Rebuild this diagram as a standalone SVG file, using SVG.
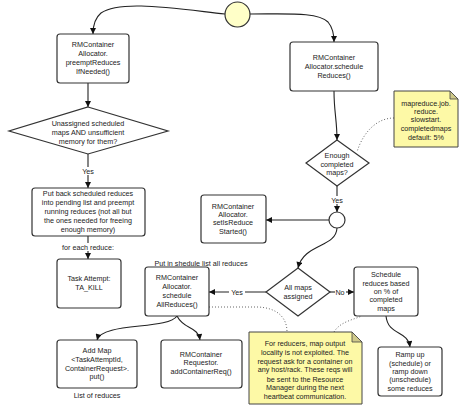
<svg xmlns="http://www.w3.org/2000/svg" width="474" height="410" viewBox="0 0 474 410">
<defs>
<marker id="ah" viewBox="0 0 10 10" refX="10" refY="5" markerWidth="7" markerHeight="6" markerUnits="userSpaceOnUse" orient="auto">
<path d="M0,0 L10,5 L0,10 Z" fill="#111"/>
</marker>
<style>
.box{fill:#fff;stroke:#333;stroke-width:1.2}
.dia{fill:#fff;stroke:#333;stroke-width:1.2}
.note{fill:#fdf9a6;stroke:#444;stroke-width:1}
.fold{fill:#cfc98a;stroke:#444;stroke-width:0.8}
.c{fill:none;stroke:#222;stroke-width:1.1}
.arr{marker-end:url(#ah)}
.dot{fill:none;stroke:#666;stroke-width:1;stroke-dasharray:1 2}
text{font-family:"Liberation Sans",Arial,sans-serif;font-size:7.2px;fill:#222;text-anchor:middle}
.lbg{fill:#fff}
</style>
</defs>
<rect width="474" height="410" fill="#fff"/>

<g id="connectors">
<path class="c arr" d="M225,14 C170,8 120,0 101,13 C95,18 93,25 93,34"/>
<path class="c arr" d="M250,14 C290,14 318,12 328,22 C333,28 334,35 334,42"/>
<path class="c arr" d="M88,83 L88,107"/>
<path class="c arr" d="M88,154 L88,188"/>
<path class="c arr" d="M88,236 L88,259"/>
<path class="c arr" d="M334,91 C334,112 337,120 337,140"/>
<path class="c arr" d="M337,186 L337,212"/>
<path class="c arr" d="M329,220 L266,220"/>
<path class="c arr" d="M337,228 C336,248 304,243 298,268"/>
<path class="c arr" d="M266,292 L209,292"/>
<path class="c arr" d="M329,292 L354,292"/>
<path class="c arr" d="M386,316 C388,336 408,330 410,347"/>
<path class="c arr" d="M177,316 C168,330 102,322 97,340"/>
<path class="c arr" d="M177,316 C184,330 198,326 200,340"/>
<path class="dot" d="M394,118 C375,118 362,135 357,152"/>
<path class="dot" d="M209,307 L258,307 C278,308 287,318 287,332"/>
<path class="dot" d="M334,332 C340,322 352,320 362,316"/>
<rect class="lbg" x="80" y="167" width="16" height="8"/>
<text x="88" y="174">Yes</text>
<rect class="lbg" x="56" y="243" width="64" height="8"/>
<text x="88" y="250">for each reduce:</text>
<rect class="lbg" x="329" y="196" width="16" height="8"/>
<text x="337" y="203">Yes</text>
<rect class="lbg" x="229" y="288" width="16" height="8"/>
<text x="237" y="295">Yes</text>
<rect class="lbg" x="335" y="288" width="11" height="8"/>
<text x="340" y="295">No</text>
<text x="201" y="266">Put in shedule list all reduces</text>
<text x="97" y="398">List of reduces</text>
</g>

<g id="start">
<circle cx="237.5" cy="14.5" r="12.5" fill="#ffffc8" stroke="#333" stroke-width="1.2"/>
</g>

<g id="preempt">
<rect class="box" x="57" y="34" width="72" height="49" rx="3"/>
<text x="93" y="47">RMContainer</text>
<text x="93" y="56">Allocator.</text>
<text x="93" y="65">preemptReduces</text>
<text x="93" y="74">IfNeeded()</text>
</g>

<g id="schedule">
<rect class="box" x="290" y="42" width="88" height="49" rx="3"/>
<text x="334" y="60">RMContainer</text>
<text x="334" y="69">Allocator.schedule</text>
<text x="334" y="78">Reduces()</text>
</g>

<g id="unassigned">
<polygon class="dia" points="88,107 168,131 88,154 9,131"/>
<text x="88" y="126">Unassigned scheduled</text>
<text x="88" y="135">maps AND unsufficient</text>
<text x="88" y="144">memory for them?</text>
</g>

<g id="putback">
<rect class="box" x="32" y="188" width="113" height="48" rx="3"/>
<text x="88" y="196">Put back scheduled reduces</text>
<text x="88" y="205">into pending list and preempt</text>
<text x="88" y="214">running reduces (not all but</text>
<text x="88" y="223">the ones needed for freeing</text>
<text x="88" y="232">enough memory)</text>
</g>

<g id="kill">
<rect class="box" x="57" y="259" width="64" height="49" rx="3"/>
<text x="89" y="281">Task Attempt:</text>
<text x="89" y="290">TA_KILL</text>
</g>

<g id="slownote">
<path class="note" d="M394,91 H450 L458,99 V147 H394 Z"/>
<path class="fold" d="M450,91 L450,99 L458,99 Z"/>
<text x="426" y="106">mapreduce.job.</text>
<text x="426" y="114">reduce.</text>
<text x="426" y="122">slowstart.</text>
<text x="426" y="131">completedmaps</text>
<text x="426" y="140">default: 5%</text>
</g>

<g id="enough">
<polygon class="dia" points="337,140 369,163 337,186 306,163"/>
<text x="337" y="158">Enough</text>
<text x="337" y="167">completed</text>
<text x="337" y="175">maps?</text>
</g>

<g id="junction">
<circle cx="337" cy="220" r="8" fill="#fff" stroke="#333" stroke-width="1.2"/>
</g>

<g id="setstarted">
<rect class="box" x="201" y="195" width="65" height="48" rx="3"/>
<text x="233" y="209">RMContainer</text>
<text x="233" y="217">Allocator.</text>
<text x="233" y="225">setIsReduce</text>
<text x="233" y="234">Started()</text>
</g>

<g id="allmaps">
<polygon class="dia" points="298,268 330,292 298,316 266,292"/>
<text x="298" y="290">All maps</text>
<text x="298" y="299">assigned</text>
</g>

<g id="allreduces">
<rect class="box" x="145" y="267" width="64" height="49" rx="3"/>
<text x="177" y="280">RMContainer</text>
<text x="177" y="289">Allocator.</text>
<text x="177" y="298">schedule</text>
<text x="177" y="307">AllReduces()</text>
</g>

<g id="schedbased">
<rect class="box" x="354" y="267" width="64" height="49" rx="3"/>
<text x="386" y="277">Schedule</text>
<text x="386" y="286">reduces based</text>
<text x="386" y="294">on % of</text>
<text x="386" y="302">completed</text>
<text x="386" y="311">maps</text>
</g>

<g id="addmap">
<rect class="box" x="57" y="340" width="80" height="48" rx="3"/>
<text x="97" y="353">Add Map</text>
<text x="97" y="362">&lt;TaskAttemptId,</text>
<text x="97" y="371">ContainerRequest&gt;.</text>
<text x="97" y="379">put()</text>
</g>

<g id="requestor">
<rect class="box" x="161" y="340" width="81" height="48" rx="3"/>
<text x="201" y="357">RMContainer</text>
<text x="201" y="365">Requestor.</text>
<text x="201" y="374">addContainerReq()</text>
</g>

<g id="localitynote">
<path class="note" d="M249,332 H352 L362,342 V404 H249 Z"/>
<path class="fold" d="M352,332 L352,342 L362,342 Z"/>
<text x="305" y="346">For reducers, map output</text>
<text x="305" y="355">locality is not exploited. The</text>
<text x="305" y="364">request ask for a container on</text>
<text x="305" y="372">any host/rack. These reqs will</text>
<text x="305" y="382">be sent to the Resource</text>
<text x="305" y="390">Manager during the next</text>
<text x="305" y="399">heartbeat communication.</text>
</g>

<g id="ramp">
<rect class="box" x="378" y="347" width="64" height="49" rx="3"/>
<text x="410" y="357">Ramp up</text>
<text x="410" y="366">(schedule) or</text>
<text x="410" y="374">ramp down</text>
<text x="410" y="382">(unschedule)</text>
<text x="410" y="391">some reduces</text>
</g>
</svg>
